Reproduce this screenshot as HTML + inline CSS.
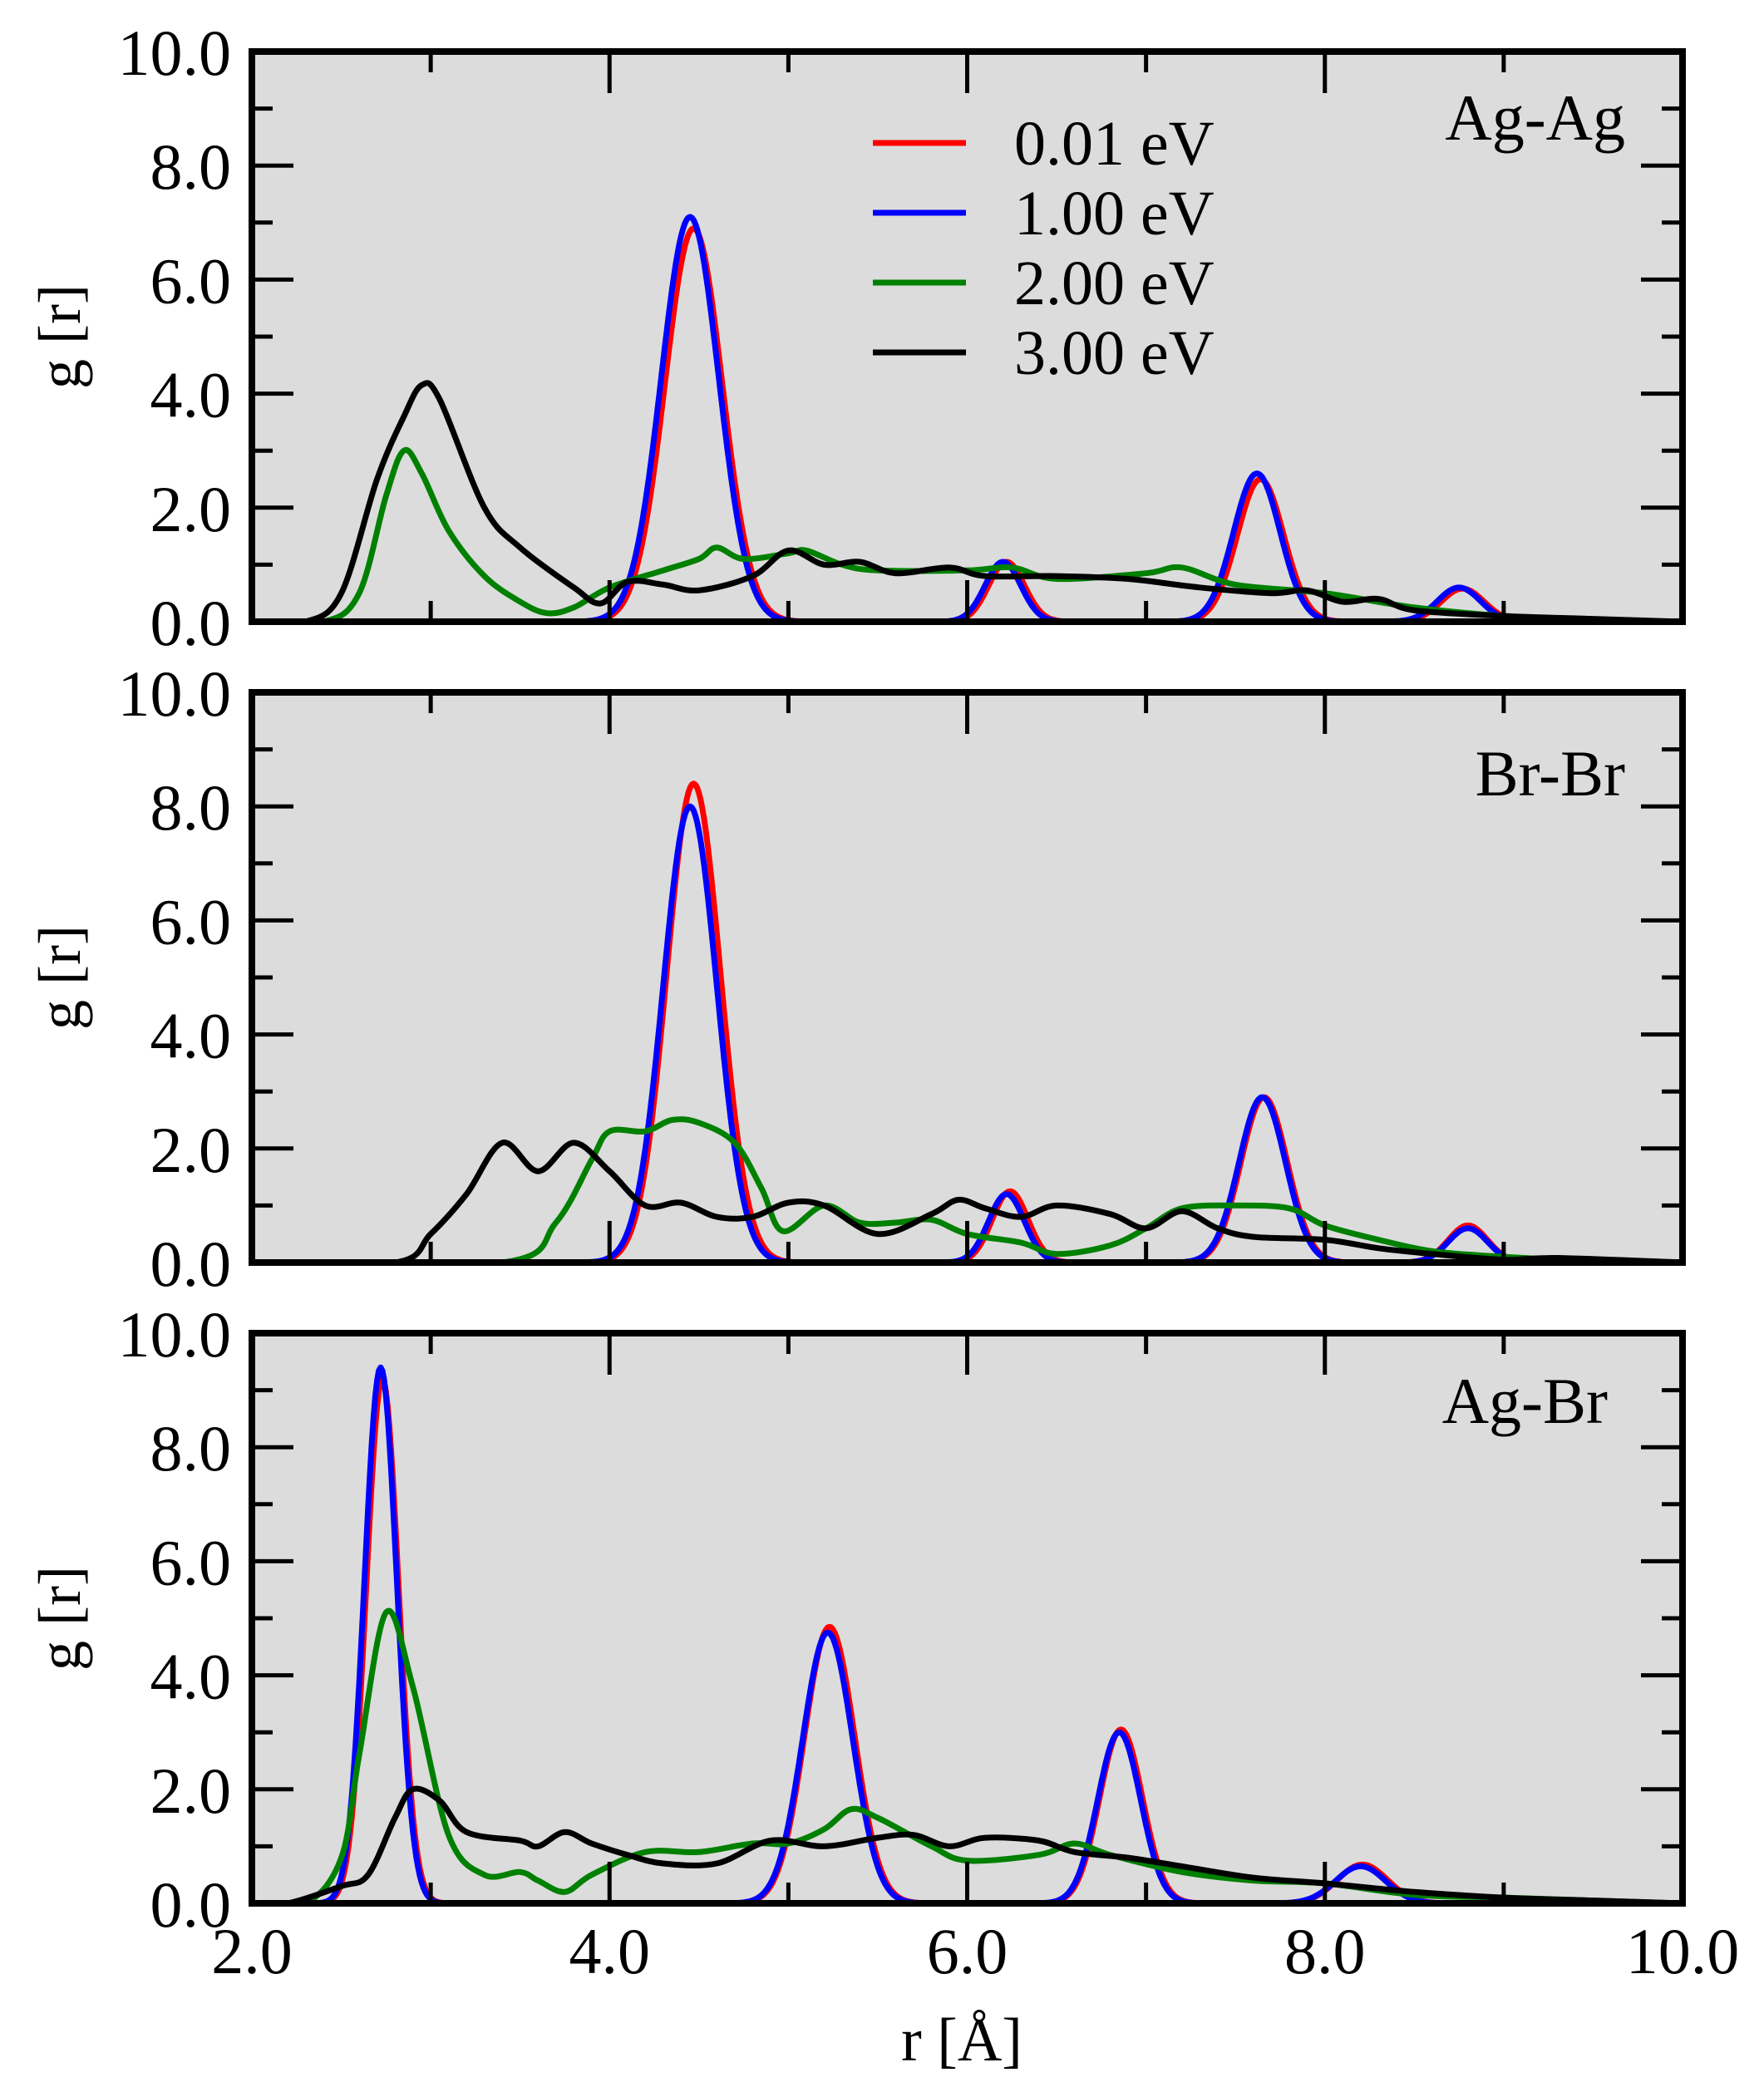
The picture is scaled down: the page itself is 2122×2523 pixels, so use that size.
<!DOCTYPE html>
<html><head><meta charset="utf-8"><style>
html,body{margin:0;padding:0;background:#fff;}
svg{display:block;}
text{font-family:"Liberation Serif",serif;fill:#000;}
</style></head><body>
<svg id="s" width="2122" height="2523" viewBox="0 0 2122 2523" xmlns="http://www.w3.org/2000/svg"></svg>
<script>
const S=document.getElementById('s');
const L=303,R=2024,H=686,tops=[62,833,1604];
const X=r=>L+(r-2)*(R-L)/8;
let out='';
function gauss(peaks,r){let v=0;for(const p of peaks)v+=p[1]*Math.exp(-((r-p[0])**2)/(2*p[2]*p[2]));return v;}
function gpath(peaks,Y){let d='';for(let r=2;r<=10.0001;r+=0.01){d+=(d?'L':'M')+X(r).toFixed(1)+','+Y(gauss(peaks,r)).toFixed(1);}return d;}
function cr(pts,Y){const P=pts.map(p=>[X(p[0]),Y(p[1])]);if(P[0][0]>L)P.unshift([L,P[0][1]]);let d='M'+P[0][0]+','+P[0][1];
for(let i=0;i<P.length-1;i++){const p0=P[Math.max(0,i-1)],p1=P[i],p2=P[i+1],p3=P[Math.min(P.length-1,i+2)];
const c1=[p1[0]+(p2[0]-p0[0])/6,p1[1]+(p2[1]-p0[1])/6],c2=[p2[0]-(p3[0]-p1[0])/6,p2[1]-(p3[1]-p1[1])/6];
d+='C'+c1[0].toFixed(1)+','+c1[1].toFixed(1)+' '+c2[0].toFixed(1)+','+c2[1].toFixed(1)+' '+p2[0].toFixed(1)+','+p2[1].toFixed(1);}return d;}
const panels=[
{lab:'Ag-Ag',lx:1955,ly:168,
red:[[4.47,6.9,0.16],[6.22,1.05,0.1],[7.64,2.5,0.13],[8.77,0.58,0.12]],
blue:[[4.45,7.1,0.16],[6.2,1.05,0.1],[7.62,2.6,0.13],[8.75,0.6,0.12]],
green:[[2.4,0],[2.6,0.5],[2.75,2.2],[2.85,3.0],[2.95,2.6],[3.1,1.6],[3.3,0.8],[3.5,0.35],[3.65,0.15],[3.8,0.25],[4.0,0.6],[4.3,0.9],[4.5,1.1],[4.6,1.3],[4.75,1.1],[5.0,1.2],[5.1,1.25],[5.3,1.0],[5.5,0.9],[6.0,0.9],[6.25,0.95],[6.5,0.75],[7.0,0.85],[7.2,0.95],[7.5,0.65],[8.0,0.5],[8.5,0.25],[9.0,0.1],[9.5,0.03],[10,0]],
black:[[2.3,0],[2.5,0.5],[2.7,2.5],[2.85,3.6],[2.95,4.15],[3.05,3.9],[3.3,2.0],[3.5,1.3],[3.8,0.6],[3.95,0.32],[4.1,0.7],[4.3,0.65],[4.5,0.55],[4.8,0.8],[5.0,1.25],[5.2,1.0],[5.4,1.05],[5.6,0.85],[5.9,0.95],[6.1,0.8],[6.5,0.8],[6.9,0.75],[7.3,0.6],[7.7,0.5],[7.9,0.55],[8.1,0.35],[8.3,0.4],[8.5,0.2],[9.0,0.1],[9.5,0.05],[10,0]]},
{lab:'Br-Br',lx:1955,ly:957,
red:[[4.47,8.4,0.15],[6.24,1.25,0.1],[7.66,2.9,0.13],[8.8,0.65,0.11]],
blue:[[4.45,8.0,0.15],[6.22,1.2,0.1],[7.65,2.9,0.13],[8.8,0.6,0.11]],
green:[[3.4,0],[3.7,0.7],[3.9,1.8],[4.0,2.3],[4.2,2.3],[4.35,2.5],[4.5,2.45],[4.7,2.1],[4.85,1.3],[4.97,0.55],[5.2,1.0],[5.4,0.7],[5.6,0.7],[5.8,0.75],[6.0,0.5],[6.3,0.35],[6.5,0.15],[6.8,0.3],[7.0,0.6],[7.2,0.95],[7.5,1.0],[7.8,0.95],[8.0,0.65],[8.3,0.4],[8.6,0.2],[9.0,0.1],[9.5,0.03],[10,0]],
black:[[2.8,0],[3.0,0.5],[3.2,1.2],[3.4,2.1],[3.6,1.6],[3.8,2.1],[4.0,1.6],[4.2,1.0],[4.4,1.05],[4.6,0.8],[4.8,0.8],[5.0,1.05],[5.2,1.0],[5.5,0.5],[5.8,0.85],[5.95,1.1],[6.1,0.95],[6.3,0.8],[6.5,1.0],[6.8,0.85],[7.0,0.6],[7.2,0.9],[7.4,0.6],[7.6,0.45],[8.0,0.4],[8.3,0.25],[8.6,0.15],[9.0,0.05],[9.3,0.08],[10,0]]},
{lab:'Ag-Br',lx:1934,ly:1712,
red:[[2.73,9.2,0.09],[5.23,4.85,0.14],[6.86,3.05,0.12],[8.21,0.68,0.14]],
blue:[[2.72,9.4,0.09],[5.22,4.75,0.14],[6.85,3.0,0.12],[8.2,0.65,0.14]],
green:[[2.3,0],[2.5,0.8],[2.6,2.6],[2.75,5.1],[2.9,3.8],[3.1,1.2],[3.3,0.5],[3.5,0.55],[3.6,0.4],[3.75,0.2],[3.9,0.5],[4.2,0.9],[4.5,0.9],[4.8,1.05],[5.0,1.05],[5.2,1.3],[5.35,1.65],[5.5,1.5],[5.8,1.0],[6.0,0.75],[6.4,0.85],[6.6,1.05],[6.8,0.85],[7.2,0.55],[7.6,0.4],[8.0,0.35],[8.5,0.15],[9.0,0.1],[9.5,0.05],[10,0]],
black:[[2.2,0],[2.5,0.3],[2.65,0.5],[2.8,1.5],[2.9,2.0],[3.05,1.8],[3.2,1.25],[3.5,1.1],[3.6,1.0],[3.75,1.25],[3.9,1.05],[4.1,0.85],[4.3,0.7],[4.6,0.7],[4.9,1.1],[5.2,1.0],[5.5,1.15],[5.7,1.2],[5.9,1.0],[6.1,1.15],[6.4,1.1],[6.6,0.9],[6.9,0.8],[7.2,0.65],[7.6,0.45],[8.0,0.35],[8.5,0.2],[9.0,0.1],[9.5,0.05],[10,0]]}
];
panels.forEach((p,i)=>{
 const T=tops[i],B=T+H,Y=g=>B-g*H/10;
 out+=`<clipPath id="c${i}"><rect x="${L}" y="${T}" width="${R-L}" height="${H}"/></clipPath>`;
 out+=`<rect x="${L}" y="${T}" width="${R-L}" height="${H}" fill="#dcdcdc"/>`;
 out+=`<g clip-path="url(#c${i})" fill="none" stroke-width="7" stroke-linejoin="round">`;
 out+=`<path d="${gpath(p.red,Y)}" stroke="#ff0000"/>`;
 out+=`<path d="${gpath(p.blue,Y)}" stroke="#0000ff"/>`;
 out+=`<path d="${cr(p.green,Y)}" stroke="#008000"/>`;
 out+=`<path d="${cr(p.black,Y)}" stroke="#000"/>`;
 out+=`</g>`;
 let t='';
 for(let r=2;r<=10;r++){const len=(r%2==0)?50:25,x=X(r);t+=`M${x},${B}v${-len}M${x},${T}v${len}`;}
 for(let g=0;g<=10;g++){const len=(g%2==0)?50:25,y=Y(g);t+=`M${L},${y}h${len}M${R},${y}h${-len}`;}
 out+=`<path d="${t}" stroke="#000" stroke-width="5" fill="none"/>`;
 out+=`<rect x="${L}" y="${T}" width="${R-L}" height="${H}" fill="none" stroke="#000" stroke-width="8"/>`;
 for(let g=0;g<=10;g+=2){out+=`<text x="278" y="${Y(g)+28}" font-size="78" text-anchor="end">${g.toFixed(1)}</text>`;}
 out+=`<text x="${p.lx}" y="${p.ly}" font-size="78" text-anchor="end">${p.lab}</text>`;
 const cy=(T+B)/2;
 out+=`<text transform="translate(96,${cy}) rotate(-90)" font-size="72" text-anchor="middle">g [r]</text>`;
});
const leg=[['0.01 eV','#ff0000'],['1.00 eV','#0000ff'],['2.00 eV','#008000'],['3.00 eV','#000']];
leg.forEach((l,i)=>{const y=172+i*84;out+=`<line x1="1050" x2="1162" y1="${y}" y2="${y}" stroke="${l[1]}" stroke-width="7"/><text x="1220" y="${y+26}" font-size="76">${l[0]}</text>`;});
for(let r=2;r<=10;r+=2){out+=`<text x="${X(r)}" y="2374" font-size="78" text-anchor="middle">${r.toFixed(1)}</text>`;}
out+=`<text x="1157" y="2479" font-size="74" text-anchor="middle">r [Å]</text>`;
S.innerHTML=out;
</script>
</body></html>
